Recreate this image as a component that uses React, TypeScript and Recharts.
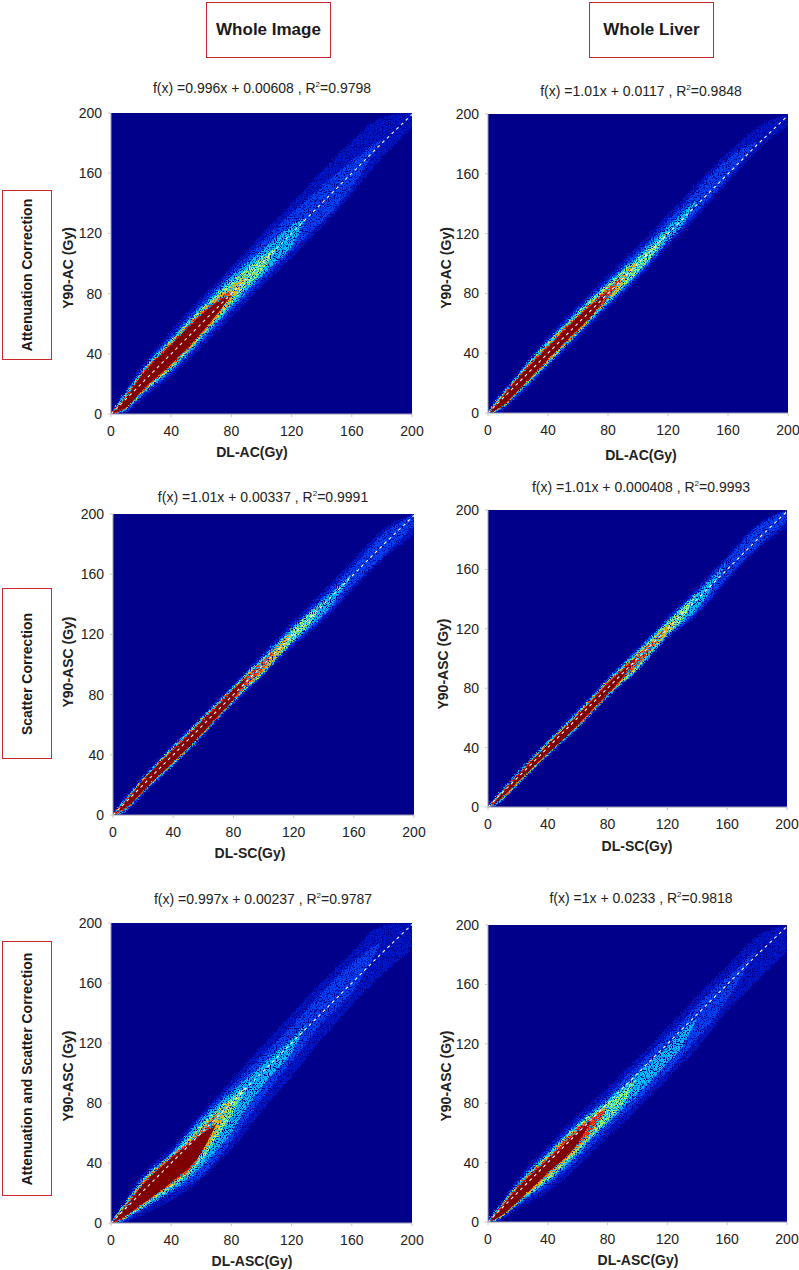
import { Area, CartesianGrid, ComposedChart, Line, XAxis, YAxis } from 'recharts';

// density levels from the faint halo to the saturated core
const levelColors = ['#0018cc', '#0044f8', '#00c0ff', '#a8ff60', '#ffb000', '#e81000', '#800000'];
const stations = [0, 5, 10, 20, 40, 60, 70, 80, 90, 100, 110, 120, 130, 140, 160, 180, 200];
const diagonal = [0, 5, 10, 20, 40, 60, 70, 80, 90, 100, 110, 120, 130, 140, 160, 180, 199];
const tickValues = [0, 40, 80, 120, 160, 200];

// each row is one density level, read as y values at the stations
const imageAcUpper = [
  [0, 9, 16, 31, 55, 77, 87, 98, 108, 119, 129, 140, 150, 161, 181, 197, 200],
  [0, 8, 15, 29, 52, 74, 84, 94, 104, 114, 124, 133, 142, 151, 168, 182],
  [0, 7, 14, 28, 50, 71, 81, 91, 100, 108, 117, 125, 130],
  [0, 7, 13, 27, 49, 70, 79, 88, 96, 104, 110],
  [0, 6, 12, 26, 48, 68, 77, 85, 91],
  [0, 6, 12, 26, 47, 67, 75, 82],
  [0, 5, 11, 25, 46, 66, 74, 79],
];
const imageAcLower = [
  [0, 0, 1, 9, 25, 44, 54, 64, 74, 85, 94, 104, 114, 124, 146, 170, 190],
  [0, 1, 2, 11, 27, 47, 57, 68, 78, 88, 98, 108, 118, 127, 150, 182],
  [0, 1, 3, 12, 29, 49, 60, 71, 81, 91, 101, 111, 130],
  [0, 1, 3, 13, 30, 51, 62, 73, 84, 94, 110],
  [0, 1, 4, 14, 31, 52, 63, 75, 91],
  [0, 1, 4, 14, 32, 53, 65, 82],
  [0, 2, 4, 15, 33, 54, 66, 79],
];

const liverAcUpper = [
  [0, 9, 15, 27, 51, 72, 82, 92, 102, 112, 122, 133, 143, 154, 174, 191, 200],
  [0, 8, 14, 26, 49, 70, 80, 89, 99, 108, 118, 129, 139, 150, 170, 182],
  [0, 7, 13, 25, 48, 68, 78, 87, 96, 105, 115, 125, 134, 143],
  [0, 7, 13, 25, 47, 67, 77, 86, 95, 103, 112, 122],
  [0, 6, 12, 24, 46, 66, 75, 84, 92, 102],
  [0, 6, 12, 24, 45, 65, 74, 83, 92],
  [0, 5, 11, 23, 44, 64, 73, 81],
];
const liverAcLower = [
  [0, 0, 2, 10, 30, 49, 60, 70, 79, 89, 100, 111, 121, 132, 154, 176, 192],
  [0, 1, 3, 12, 32, 52, 62, 72, 81, 91, 102, 114, 124, 135, 157, 182],
  [0, 1, 4, 13, 33, 53, 63, 73, 83, 93, 104, 115, 126, 143],
  [0, 1, 4, 14, 33, 53, 64, 74, 84, 94, 105, 122],
  [0, 1, 4, 14, 34, 54, 65, 75, 86, 102],
  [0, 2, 5, 15, 35, 55, 66, 76, 92],
  [0, 2, 5, 15, 36, 56, 66, 81],
];

const imageScUpper = [
  [0, 8, 14, 26, 47, 67, 77, 87, 97, 108, 118, 129, 139, 149, 170, 190, 200],
  [0, 7, 13, 25, 46, 66, 76, 86, 96, 106, 116, 127, 136, 146, 166, 187, 200],
  [0, 7, 12, 24, 45, 65, 75, 85, 95, 105, 115, 125, 134, 143, 161],
  [0, 6, 12, 24, 45, 65, 75, 85, 95, 104, 114, 124, 133, 141],
  [0, 6, 12, 24, 44, 64, 74, 84, 94, 103, 113, 124],
  [0, 6, 11, 23, 44, 64, 74, 84, 93, 102, 114],
  [0, 5, 11, 23, 43, 63, 73, 83, 93],
];
const imageScLower = [
  [0, 1, 3, 13, 32, 52, 63, 73, 83, 92, 102, 112, 120, 129, 150, 170, 186],
  [0, 1, 4, 14, 33, 53, 64, 74, 84, 93, 104, 114, 122, 131, 153, 172, 192],
  [0, 1, 4, 15, 33, 53, 64, 75, 85, 94, 105, 115, 124, 133, 161],
  [0, 2, 5, 15, 34, 54, 65, 75, 85, 94, 105, 116, 126, 141],
  [0, 2, 5, 15, 34, 54, 65, 76, 86, 95, 106, 124],
  [0, 2, 5, 16, 35, 55, 65, 76, 87, 97, 114],
  [0, 3, 6, 16, 35, 55, 66, 77, 93],
];

const liverScUpper = [
  [0, 7, 13, 24, 45, 66, 76, 87, 97, 107, 117, 128, 138, 148, 169, 190, 200],
  [0, 6, 12, 23, 44, 65, 75, 86, 96, 106, 116, 126, 136, 146, 167, 188, 200],
  [0, 6, 12, 23, 44, 64, 74, 85, 95, 105, 115, 125, 135, 144, 165],
  [0, 6, 11, 22, 43, 63, 74, 85, 94, 104, 114, 124, 134, 144],
  [0, 5, 11, 22, 43, 63, 73, 84, 93, 103, 113, 122, 133],
  [0, 5, 11, 22, 42, 62, 73, 84, 93, 102, 111, 121],
  [0, 4, 10, 21, 42, 62, 72, 83, 92, 102],
];
const liverScLower = [
  [0, 1, 4, 14, 34, 52, 62, 73, 82, 91, 102, 113, 121, 129, 152, 173, 188],
  [0, 1, 5, 15, 34, 53, 63, 74, 83, 92, 103, 114, 122, 131, 154, 175, 192],
  [0, 1, 5, 15, 35, 53, 64, 74, 83, 92, 103, 115, 124, 133, 165],
  [0, 2, 5, 16, 35, 54, 64, 75, 84, 93, 105, 116, 126, 144],
  [0, 2, 6, 16, 36, 54, 64, 75, 85, 94, 106, 117, 133],
  [0, 2, 6, 17, 36, 55, 65, 75, 86, 95, 107, 121],
  [0, 3, 7, 17, 36, 55, 66, 76, 87, 102],
];

const imageAscUpper = [
  [0, 8, 16, 31, 50, 73, 84, 95, 106, 117, 128, 139, 150, 160, 180, 198, 200],
  [0, 8, 15, 29, 47, 71, 81, 91, 101, 111, 121, 131, 142, 153, 173, 188],
  [0, 7, 14, 28, 46, 69, 78, 87, 96, 105, 114, 122, 133],
  [0, 7, 13, 27, 45, 65, 75, 83, 91],
  [0, 6, 13, 26, 44, 63, 73, 82],
  [0, 6, 12, 25, 44, 61, 72],
  [0, 5, 11, 24, 43, 59, 66],
];
const imageAscLower = [
  [0, 0, 1, 5, 15, 29, 39, 49, 61, 74, 86, 97, 110, 122, 145, 165, 182],
  [0, 0, 2, 8, 20, 31, 42, 54, 69, 82, 95, 107, 120, 133, 153, 188],
  [0, 1, 3, 9, 21, 37, 48, 60, 76, 90, 102, 113, 133],
  [0, 1, 3, 10, 23, 41, 56, 71, 91],
  [0, 1, 4, 11, 25, 44, 60, 82],
  [0, 1, 4, 12, 26, 46, 72],
  [0, 2, 5, 12, 27, 47, 66],
];

const liverAscUpper = [
  [0, 8, 15, 29, 51, 72, 81, 90, 100, 110, 120, 131, 141, 152, 172, 192, 200],
  [0, 7, 14, 27, 48, 68, 76, 85, 95, 105, 115, 125, 135, 146, 165, 183],
  [0, 7, 13, 26, 46, 66, 74, 82, 91, 100, 109, 118, 128, 137],
  [0, 6, 13, 25, 45, 65, 73, 80, 88, 97],
  [0, 6, 12, 25, 44, 64, 71, 79],
  [0, 5, 12, 24, 43, 63, 70, 77],
  [0, 5, 11, 23, 42, 61, 70],
];
const liverAscLower = [
  [0, 0, 2, 9, 20, 37, 47, 57, 66, 76, 86, 96, 106, 117, 142, 162, 182],
  [0, 1, 3, 11, 24, 42, 52, 62, 72, 81, 91, 101, 112, 123, 149, 183],
  [0, 1, 4, 12, 27, 45, 56, 66, 76, 86, 96, 107, 118, 137],
  [0, 1, 4, 13, 28, 47, 58, 68, 79, 97],
  [0, 1, 4, 13, 30, 49, 60, 79],
  [0, 2, 5, 14, 32, 51, 62, 77],
  [0, 2, 5, 14, 33, 53, 70],
];

const font = '"Liberation Sans", Arial, sans-serif';

function buildRows(upper: number[][], lower: number[][]) {
  return stations.map((x, i) => {
    const row: Record<string, unknown> = { x, diagonal: diagonal[i] };
    levelColors.forEach((_, level) => {
      const hi = upper[level][i];
      const lo = lower[level][i];
      row[`level${level}`] = hi === undefined ? null : [lo, hi];
    });
    return row;
  });
}

interface PanelProps {
  left: number;
  top: number;
  width: number;
  height: number;
  upper: number[][];
  lower: number[][];
  title: [string, string];
  titleX: number;
  titleY: number;
  xLabel: string;
  xLabelX: number;
  xLabelY: number;
  yLabel: string;
  yLabelX: number;
  yLabelY: number;
}

const PAD_LEFT = 45;
const PAD_TOP = 10;
const PAD_RIGHT = 12;
const PAD_BOTTOM = 32;

function Panel(p: PanelProps) {
  const tick = { fontSize: 14, fill: '#222', fontFamily: font };
  return (
    <>
      <div style={{ position: 'absolute', left: p.titleX - 150, top: p.titleY - 9, width: 300, textAlign: 'center', fontSize: 14, lineHeight: '18px', color: '#222', fontFamily: font }}>
        {p.title[0]}R<sup style={{ fontSize: 8, lineHeight: 0 }}>2</sup>{p.title[1]}
      </div>
      <ComposedChart
        width={p.width + PAD_LEFT + PAD_RIGHT}
        height={p.height + PAD_TOP + PAD_BOTTOM}
        data={buildRows(p.upper, p.lower)}
        margin={{ top: PAD_TOP, right: PAD_RIGHT, bottom: 0, left: 0 }}
        style={{ position: 'absolute', left: p.left - PAD_LEFT, top: p.top - PAD_TOP }}
      >
        <CartesianGrid horizontal={false} vertical={false} fill="#00008a" fillOpacity={1} />
        <XAxis dataKey="x" type="number" domain={[0, 200]} allowDataOverflow ticks={tickValues} height={PAD_BOTTOM} tick={tick} tickSize={3} tickMargin={9} stroke="#9a9ab0" tickLine={{ stroke: '#c4c4c4' }} interval={0} />
        <YAxis type="number" domain={[0, 200]} allowDataOverflow ticks={tickValues} width={PAD_LEFT} tick={tick} tickSize={3} tickMargin={6} stroke="#9a9ab0" tickLine={{ stroke: '#c4c4c4' }} interval={0} />
        <XAxis xAxisId="top" orientation="top" type="number" dataKey="x" domain={[0, 200]} ticks={tickValues} height={0} tick={false} tickSize={3} stroke="#9a9ab0" tickLine={{ stroke: '#c4c4c4' }} interval={0} />
        <YAxis yAxisId="right" orientation="right" type="number" domain={[0, 200]} ticks={tickValues} width={0} tick={false} tickSize={3} stroke="#9a9ab0" tickLine={{ stroke: '#c4c4c4' }} interval={0} />
        {levelColors.map((color, level) => (
          <Area
            key={color}
            className={`density-${level}`}
            dataKey={`level${level}`}
            type="monotone"
            stroke="none"
            fill={color}
            fillOpacity={1}
            dot={false}
            activeDot={false}
            isAnimationActive={false}
          />
        ))}
        <Line dataKey="diagonal" stroke="#ffffff" strokeWidth={1.1} strokeDasharray="3 3.5" dot={false} activeDot={false} isAnimationActive={false} />
      </ComposedChart>
      <div style={{ position: 'absolute', left: p.xLabelX - 80, top: p.xLabelY - 9, width: 160, textAlign: 'center', fontSize: 14, fontWeight: 700, lineHeight: '18px', color: '#222', fontFamily: font }}>
        {p.xLabel}
      </div>
      <div style={{ position: 'absolute', left: p.yLabelX - 80, top: p.yLabelY - 9, width: 160, textAlign: 'center', fontSize: 14, fontWeight: 700, lineHeight: '18px', color: '#222', fontFamily: font, transform: 'rotate(-90deg)' }}>
        {p.yLabel}
      </div>
    </>
  );
}

function HeaderBox({ left, top, width, height, text }: { left: number; top: number; width: number; height: number; text: string }) {
  return (
    <div style={{ position: 'absolute', left, top, width, height, boxSizing: 'border-box', border: '1px solid #c8282c', display: 'flex', alignItems: 'center', justifyContent: 'center', fontFamily: font, fontWeight: 700, fontSize: 17, color: '#1a1a1a' }}>
      {text}
    </div>
  );
}

function SideBox({ left, top, width, height, text }: { left: number; top: number; width: number; height: number; text: string }) {
  return (
    <div style={{ position: 'absolute', left, top, width, height, boxSizing: 'border-box', border: '1px solid #c8282c', display: 'flex', alignItems: 'center', justifyContent: 'center', fontFamily: font, fontWeight: 700, fontSize: 14, color: '#1a1a1a' }}>
      <span style={{ whiteSpace: 'nowrap', transform: 'rotate(-90deg)' }}>{text}</span>
    </div>
  );
}

const densityCss = `
.density-0 .recharts-area-area, .density-1 .recharts-area-area, .density-2 .recharts-area-area { filter: url(#speckle); }
.density-3 .recharts-area-area, .density-4 .recharts-area-area, .density-5 .recharts-area-area { filter: url(#grain); }
.density-6 .recharts-area-area { filter: url(#core); }
`;

export default function App() {
  return (
    <div style={{ position: 'absolute', left: 0, top: 0, width: 799, height: 1270, background: '#fff', overflow: 'hidden' }}>
      <style>{densityCss}</style>
      <svg width={0} height={0} style={{ position: 'absolute' }}>
        <filter id="speckle" x="-5%" y="-5%" width="110%" height="110%" colorInterpolationFilters="sRGB">
          <feTurbulence type="fractalNoise" baseFrequency="0.85" numOctaves={2} seed={4} result="noise" />
          <feDisplacementMap in="SourceGraphic" in2="noise" scale={7} xChannelSelector="R" yChannelSelector="G" result="moved" />
          <feColorMatrix in="noise" type="matrix" values="0 0 0 0 0  0 0 0 0 0  0 0 0 0 0  7 0 0 0 -2.6" result="mask" />
          <feComposite in="moved" in2="mask" operator="in" result="dotted" />
          <feGaussianBlur in="dotted" stdDeviation={0.4} />
        </filter>
        <filter id="grain" x="-5%" y="-5%" width="110%" height="110%" colorInterpolationFilters="sRGB">
          <feTurbulence type="fractalNoise" baseFrequency="0.9" numOctaves={2} seed={9} result="noise" />
          <feDisplacementMap in="SourceGraphic" in2="noise" scale={5} xChannelSelector="R" yChannelSelector="G" result="moved" />
          <feColorMatrix in="noise" type="matrix" values="0 0 0 0 0  0 0 0 0 0  0 0 0 0 0  0 7 0 0 -2.9" result="mask" />
          <feComposite in="moved" in2="mask" operator="in" result="dotted" />
          <feGaussianBlur in="dotted" stdDeviation={0.4} />
        </filter>
        <filter id="core" x="-5%" y="-5%" width="110%" height="110%" colorInterpolationFilters="sRGB">
          <feTurbulence type="fractalNoise" baseFrequency="0.9" numOctaves={2} seed={15} result="noise" />
          <feDisplacementMap in="SourceGraphic" in2="noise" scale={2.5} xChannelSelector="R" yChannelSelector="G" result="moved" />
          <feGaussianBlur in="moved" stdDeviation={0.3} />
        </filter>
      </svg>

      <HeaderBox left={206} top={2} width={125} height={56} text="Whole Image" />
      <HeaderBox left={589} top={2} width={125} height={56} text="Whole Liver" />
      <SideBox left={2} top={190} width={50} height={170} text="Attenuation Correction" />
      <SideBox left={2} top={588} width={50} height={171} text="Scatter Correction" />
      <SideBox left={2} top={941} width={50} height={255} text="Attenuation and Scatter Correction" />

      <Panel left={111} top={113} width={301} height={301} upper={imageAcUpper} lower={imageAcLower}
        title={['f(x) =0.996x + 0.00608 , ', '=0.9798']} titleX={262} titleY={88}
        xLabel="DL-AC(Gy)" xLabelX={252} xLabelY={452} yLabel="Y90-AC (Gy)" yLabelX={68} yLabelY={268} />
      <Panel left={488} top={114} width={300} height={299} upper={liverAcUpper} lower={liverAcLower}
        title={['f(x) =1.01x + 0.0117 , ', '=0.9848']} titleX={641} titleY={91}
        xLabel="DL-AC(Gy)" xLabelX={641} xLabelY={455} yLabel="Y90-AC (Gy)" yLabelX={446} yLabelY={268} />
      <Panel left={113} top={514} width={301} height={301} upper={imageScUpper} lower={imageScLower}
        title={['f(x) =1.01x + 0.00337 , ', '=0.9991']} titleX={263} titleY={497}
        xLabel="DL-SC(Gy)" xLabelX={250} xLabelY={853} yLabel="Y90-ASC (Gy)" yLabelX={68} yLabelY={662} />
      <Panel left={488} top={510} width={299} height={297} upper={liverScUpper} lower={liverScLower}
        title={['f(x) =1.01x + 0.000408 , ', '=0.9993']} titleX={641} titleY={487}
        xLabel="DL-SC(Gy)" xLabelX={637} xLabelY={846} yLabel="Y90-ASC (Gy)" yLabelX={443} yLabelY={664} />
      <Panel left={111} top={923} width={301} height={300} upper={imageAscUpper} lower={imageAscLower}
        title={['f(x) =0.997x + 0.00237 , ', '=0.9787']} titleX={263} titleY={899}
        xLabel="DL-ASC(Gy)" xLabelX={252} xLabelY={1261} yLabel="Y90-ASC (Gy)" yLabelX={68} yLabelY={1076} />
      <Panel left={488} top={925} width={299} height={297} upper={liverAscUpper} lower={liverAscLower}
        title={['f(x) =1x + 0.0233 , ', '=0.9818']} titleX={641} titleY={898}
        xLabel="DL-ASC(Gy)" xLabelX={638} xLabelY={1260} yLabel="Y90-ASC (Gy)" yLabelX={446} yLabelY={1076} />
    </div>
  );
}
